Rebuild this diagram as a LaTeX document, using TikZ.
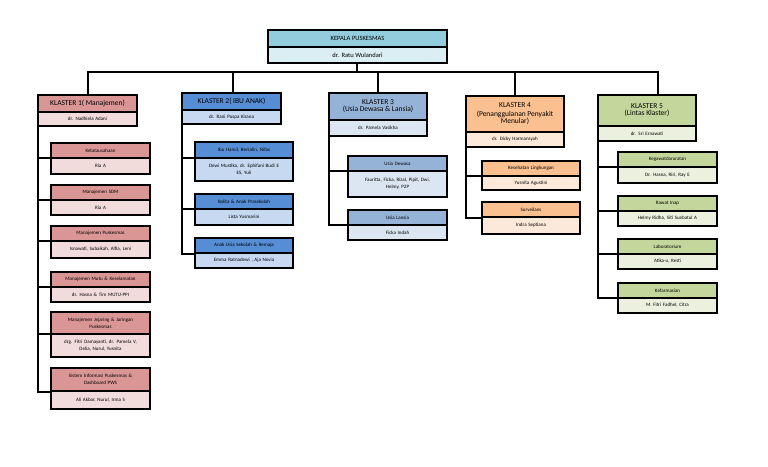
\documentclass[tikz,border=0pt]{standalone}
\usepackage{fontspec}
\setmainfont{Carlito}
\definecolor{kh}{HTML}{93CDDD}\definecolor{kb}{HTML}{DBEEF4}
\definecolor{ah}{HTML}{D99694}\definecolor{ab}{HTML}{F2DCDB}
\definecolor{bh}{HTML}{558ED5}\definecolor{bb}{HTML}{C6D9F1}
\definecolor{ch}{HTML}{95B3D7}\definecolor{cb}{HTML}{DCE6F2}
\definecolor{dh}{HTML}{FAC090}\definecolor{db}{HTML}{FDE9D9}
\definecolor{eh}{HTML}{C3D69B}\definecolor{eb}{HTML}{EBF1DE}
\newcommand{\orgbox}[9]{%
 \fill[#7] (#2,#3) rectangle (#4,#5);
 \fill[#8] (#2,#5) rectangle (#4,#6);
 \draw[line width=1.3pt] (#2,#3) rectangle (#4,#6);
 \draw[line width=1.3pt] (#2,#5) -- (#4,#5);
 \node[txt,text width=(#4-#2-16)*1pt] (#1h) at ($(#2,#3)!.5!(#4,#5)$) {#9};
 \coordinate (#1) at (#2,#5);}
\usetikzlibrary{calc}
\tikzset{txt/.style={align=center,inner sep=0pt,font=\fontsize{5}{7}\selectfont},
 ln/.style={line width=1.3pt}}
\begin{document}
\begin{tikzpicture}[x=1pt,y=-1pt]
\useasboundingbox (0,0) rectangle (768,466);
% connectors
\draw[ln] (357,63) -- (357,72);
\draw[ln] (88,95) -- (88,72) -- (658,72) -- (658,95);
\draw[ln] (233,72) -- (233,93);
\draw[ln] (378,72) -- (378,93);
\draw[ln] (515,72) -- (515,96);
\draw[ln] (38,126) -- (38,392) -- (51,392);
\foreach \y in {158,200,241,287,334} \draw[ln] (38,\y) -- (51,\y);
\draw[ln] (182,124) -- (182,254) -- (195,254);
\foreach \y in {158,209} \draw[ln] (182,\y) -- (195,\y);
\draw[ln] (329,136) -- (329,225) -- (348,225);
\draw[ln] (329,171) -- (348,171);
\draw[ln] (466,147) -- (466,218) -- (482,218);
\draw[ln] (466,176) -- (482,176);
\draw[ln] (598,141) -- (598,298) -- (618,298);
\foreach \y in {167,211,254} \draw[ln] (598,\y) -- (618,\y);
\newcommand{\ob}[9]{\orgbox{#1}{#2}{#3}{#4}{#5}{#6}{#7}{#8}{#9}}
\newcommand{\bt}[6]{\node[txt,text width=(#4-#2-16)*1pt] (#1b) at ($(#2,#3)!.5!(#4,#5)$) {#6};}
% Kepala
\ob{kep}{268}{30}{447}{47}{63}{kh}{kb}{\fontsize{6.5}{8}\selectfont KEPALA PUSKESMAS}
\bt{kep}{268}{47}{447}{63}{\fontsize{6.5}{8}\selectfont dr. Ratu Wulandari}
% K1
\ob{ka}{38}{95}{137}{112}{126}{ah}{ab}{\fontsize{7.5}{9}\selectfont KLASTER 1( Manajemen)}
\bt{ka}{38}{112}{137}{126}{dr. Nadhiela Adani}
\ob{a1}{51}{143}{150}{158}{174}{ah}{ab}{Ketatausahaan}\bt{a1}{51}{158}{150}{174}{Ria A}
\ob{a2}{51}{185}{150}{200}{215}{ah}{ab}{Manajemen SDM}\bt{a2}{51}{200}{150}{215}{Ria A}
\ob{a3}{51}{226}{150}{241}{258}{ah}{ab}{Manajemen Puskesmas}\bt{a3}{51}{241}{150}{258}{Isnawati, Subaikah, Alfia, Leni}
\ob{a4}{51}{272}{150}{287}{302}{ah}{ab}{Manajemen Mutu \& Keselamatan}\bt{a4}{51}{287}{150}{302}{dr. Hasna \& Tim MUTU-PPI}
\ob{a5}{51}{312}{150}{334}{357}{ah}{ab}{Manajemen Jejaring \& Jaringan\\Puskesmas}\bt{a5}{51}{334}{150}{357}{drg. Fitri Damayanti, dr. Pamela V,\\Delia, Nurul, Yusnita}
\ob{a6}{51}{368}{150}{391}{409}{ah}{ab}{Sistem Informasi Puskesmas \&\\Dashboard PWS}\bt{a6}{51}{391}{150}{409}{Ali Akbar, Nurul, Irma S}
% K2
\ob{kb}{182}{93}{281}{110}{124}{bh}{bb}{\fontsize{7.5}{9}\selectfont KLASTER 2( IBU ANAK)}
\bt{kb}{182}{110}{281}{124}{dr. Rani Puspa Kirana}
\ob{b1}{195}{142}{293}{158}{181}{bh}{bb}{Ibu Hamil, Bersalin, Nifas}\bt{b1}{195}{158}{293}{181}{Dewi Mustika, dr. Ephifani Budi E\\ES, Yuli}
\ob{b2}{195}{194}{293}{209}{225}{bh}{bb}{Balita \& Anak Prasekolah}\bt{b2}{195}{209}{293}{225}{Lista Yusmarini}
\ob{b3}{195}{238}{293}{253}{268}{bh}{bb}{Anak Usia Sekolah \& Remaja}\bt{b3}{195}{253}{293}{268}{Emma Ratnadewi , Aja Novia}
% K3
\ob{kc}{329}{93}{427}{120}{136}{ch}{cb}{\fontsize{7.5}{9}\selectfont KLASTER 3\\(Usia Dewasa \& Lansia)}
\bt{kc}{329}{120}{427}{136}{dr. Pamela Vasikha}
\ob{c1}{348}{156}{447}{171}{197}{ch}{cb}{Usia Dewasa}\bt{c1}{348}{171}{447}{197}{Fauritta, Ficka, Rizal, Pipit, Dwi,\\Helmy, P2P}
\ob{c2}{348}{210}{447}{225}{240}{ch}{cb}{Usia Lansia}\bt{c2}{348}{225}{447}{240}{Ficka Indah}
% K4
\ob{kd}{466}{96}{564}{132}{147}{dh}{db}{\fontsize{7.5}{9}\selectfont KLASTER 4\\(Penanggulanan Penyakit\\Menular)}
\bt{kd}{466}{132}{564}{147}{dr. Dicky Harmansyah}
\ob{d1}{482}{161}{580}{176}{190}{dh}{db}{Kesehatan Lingkungan}\bt{d1}{482}{176}{580}{190}{Yusnita Agustini}
\ob{d2}{482}{202}{580}{217}{234}{dh}{db}{Surveilans}\bt{d2}{482}{217}{580}{234}{Indra Septiana}
% K5
\ob{ke}{598}{95}{696}{126}{141}{eh}{eb}{\fontsize{7.5}{9}\selectfont KLASTER 5\\(Lintas Klaster)}
\bt{ke}{598}{126}{696}{141}{dr. Sri Ernawati}
\ob{e1}{618}{152}{717}{167}{183}{eh}{eb}{Kegawatdaruratan}\bt{e1}{618}{167}{717}{183}{Dr. Hasna, Riri, Ray E}
\ob{e2}{618}{196}{717}{211}{226}{eh}{eb}{Rawat Inap}\bt{e2}{618}{211}{717}{226}{Helmy Ridha, Siti Suebatul A}
\ob{e3}{618}{239}{717}{254}{269}{eh}{eb}{Laboratorium}\bt{e3}{618}{254}{717}{269}{Atika-u, Resti}
\ob{e4}{618}{283}{717}{298}{313}{eh}{eb}{Kefarmasian}\bt{e4}{618}{298}{717}{313}{M. Fitri Fadhel, Citra}
\end{tikzpicture}
\end{document}
